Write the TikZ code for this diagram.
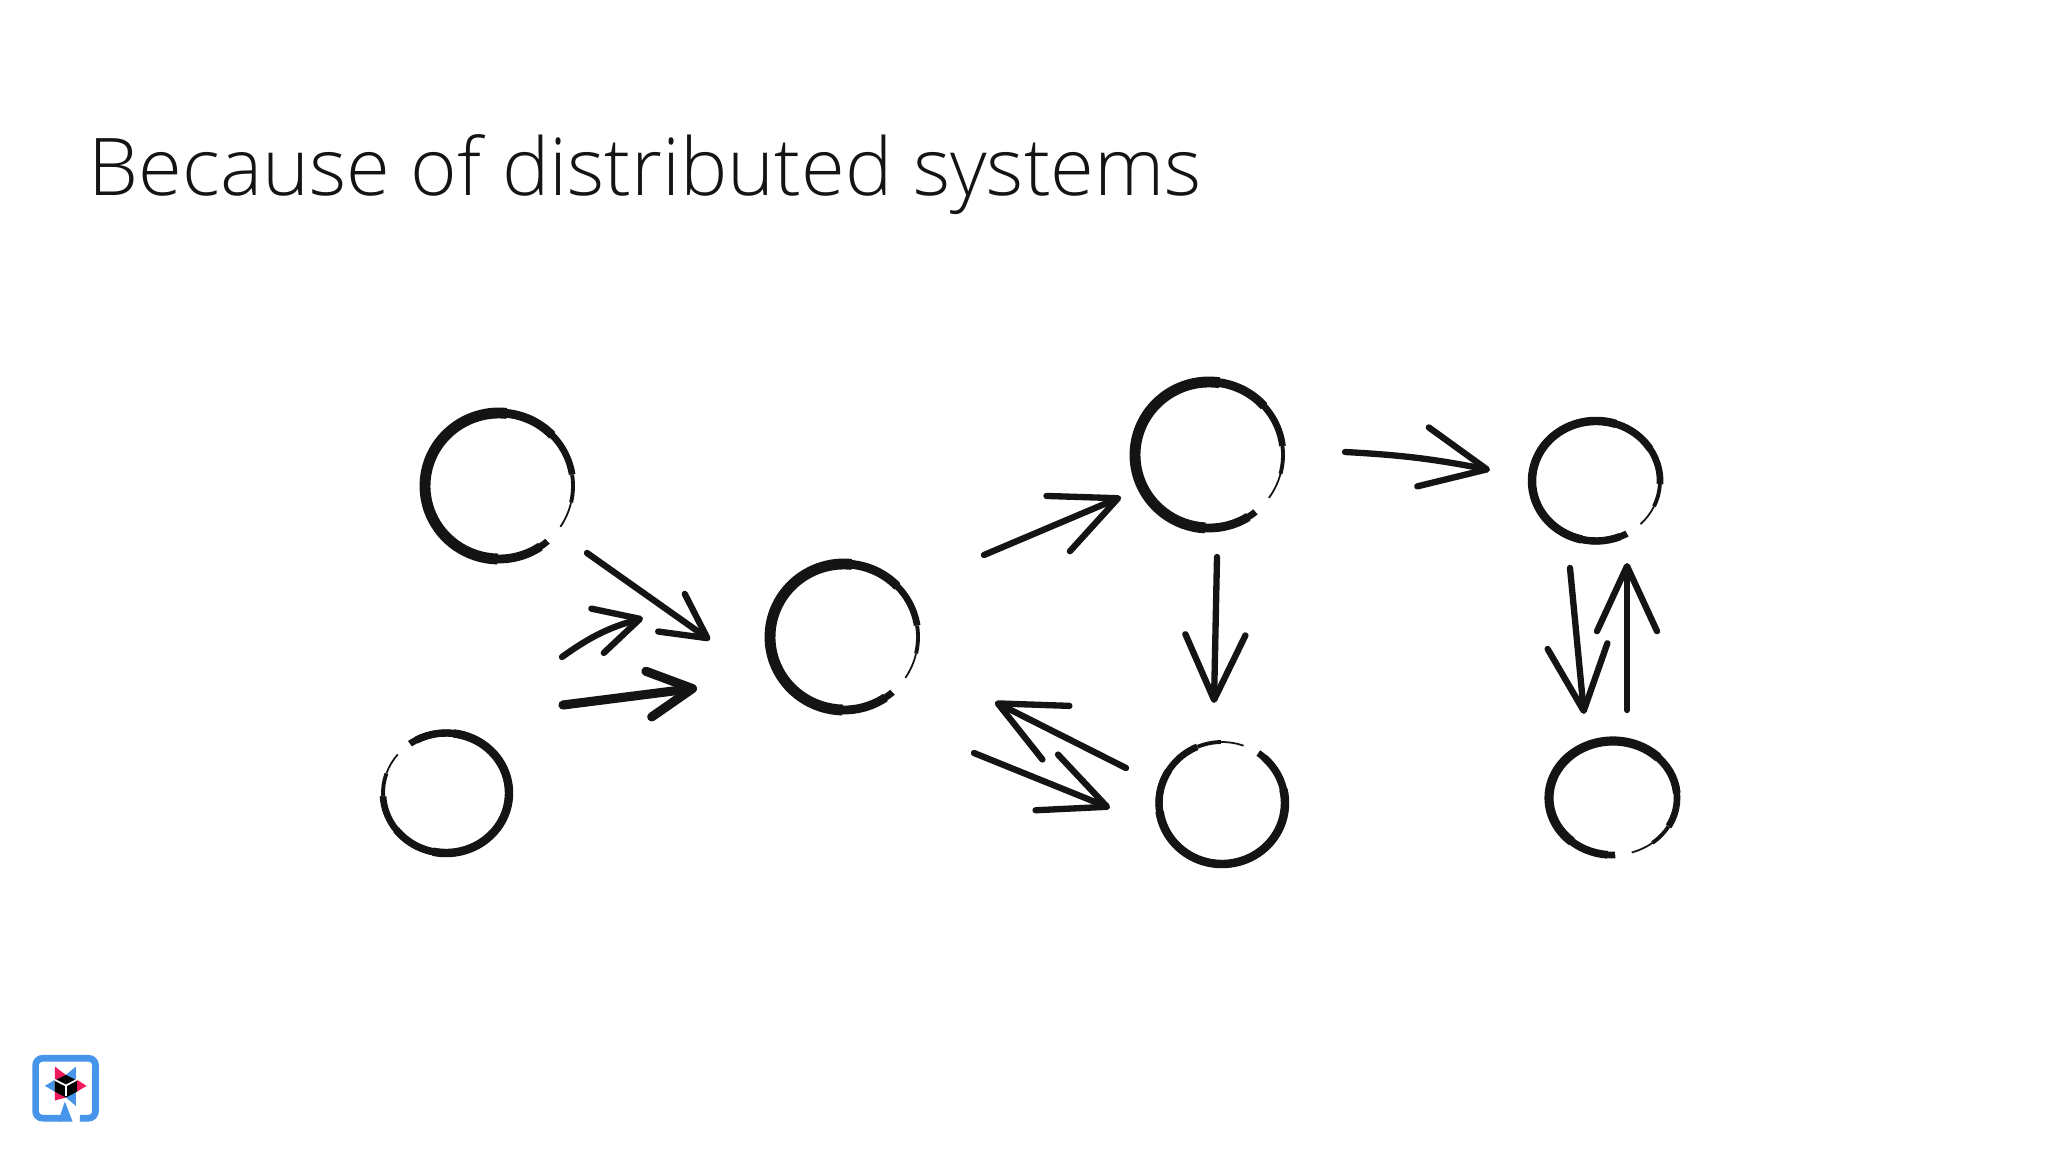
\documentclass[tikz,border=0pt]{standalone}
\usepackage{fontspec}
\setmainfont{Open Sans}[UprightFont=* Light]
\usetikzlibrary{shapes.geometric,arrows.meta}
\definecolor{quarkblue}{HTML}{4794EB}
\definecolor{quarkred}{HTML}{F0195A}
\definecolor{ink}{HTML}{141414}
\tikzset{
  ring/.style={ellipse,draw=ink,line width=1.9pt,inner sep=0pt,outer sep=0pt},
  big/.style={draw=ink,line width=1.8pt,line cap=round,-{Straight Barb[round,length=.65cm,width=.6cm]}},
  small/.style={draw=ink,line width=1.8pt,line cap=round,-{Straight Barb[round,length=.44cm,width=.46cm]}},
}
\begin{document}
\begin{tikzpicture}[x=0.01cm,y=-0.01cm]
  \useasboundingbox[fill=white] (0,0) rectangle (2048,1152);
  \node[anchor=base west,inner sep=0pt,text=ink,font=\fontsize{22.65}{28}\selectfont] (title) at (88,196) {Because of distributed systems};

  \node[ring,minimum width=1.48cm,minimum height=1.46cm] (1) at (499,486) {};
  \node[ring,minimum width=1.26cm,minimum height=1.20cm] (2) at (446,793) {};
  \node[ring,minimum width=1.48cm,minimum height=1.46cm] (3) at (844,637) {};
  \node[ring,minimum width=1.48cm,minimum height=1.46cm] (4) at (1209,455) {};
  \node[ring,minimum width=1.26cm,minimum height=1.22cm] (5) at (1222,803) {};
  \node[ring,minimum width=1.28cm,minimum height=1.20cm] (6) at (1596,481) {};
  \node[ring,minimum width=1.28cm,minimum height=1.14cm] (7) at (1613,798) {};

  % brush gaps and thick parts
  \foreach \n/\g/\rx/\ry/\t/\m in {1/41/74/73/3.1/2.5,2/-133/63/60/2.4/2.1,3/41/74/73/3.1/2.5,4/43/74/73/3.1/2.5,5/-63/63/61/2.4/2.1,6/53/64/60/2.4/2.1,7/80/64/57/2.6/2.2}{
    \draw[white,line width=4pt] ([shift={({\rx*cos(\g+8)},{\ry*sin(\g+8)})}]\n.center) arc[start angle=\g+8,end angle=\g-50,x radius=\rx,y radius=\ry];
    \foreach \s/\e/\w in {7/28/0.5,28/50/1.1,85/345/\m,125/310/\t}{
      \draw[ink,line width=\w pt] ([shift={({\rx*cos(\g-\s)},{\ry*sin(\g-\s)})}]\n.center) arc[start angle=\g-\s,end angle=\g-\e,x radius=\rx,y radius=\ry];
    }
  }

  \coordinate (s1) at (587,553); \coordinate (t1) at (710,640);
  \coordinate (s2) at (562,657); \coordinate (t2) at (643,618);
  \coordinate (s3) at (563,705); \coordinate (t3) at (697,688);
  \coordinate (s4) at (984,555); \coordinate (t4) at (1121,497);
  \coordinate (s5) at (1345,452); \coordinate (t5) at (1490,470);
  \coordinate (s6) at (1217,557); \coordinate (t6) at (1214,703);
  \coordinate (s7) at (1126,768); \coordinate (t7) at (995,702);
  \coordinate (s8) at (974,753); \coordinate (t8) at (1110,808);
  \coordinate (s9) at (1570,568); \coordinate (t9) at (1584,714);
  \coordinate (s10) at (1627,710); \coordinate (t10) at (1627,563);

  \draw[small] (s1) -- (t1);
  \draw[small] (s2) to[bend left=10] (t2);
  \draw[small,line width=2.6pt] (s3) -- (t3);
  \draw[big] (s4) -- (t4);
  \draw[big] (s5) to[bend left=4] (t5);
  \draw[big] (s6) -- (t6);
  \draw[big] (s7) -- (t7);
  \draw[big] (s8) -- (t8);
  \draw[big] (s9) -- (t9);
  \draw[big] (s10) -- (t10);

  % logo
  \begin{scope}[shift={(0,1020)},x=0.00333cm,y=-0.00333cm]
    \draw[quarkblue,line width=1.9pt,rounded corners=0.07cm] (240,295) -- (287,295) -- (287,115) -- (107,115) -- (107,295) -- (182,295);
    \fill[quarkblue] (195,245) -- (218,305) -- (175,305) -- cycle;
    \fill[quarkred] (165,140) -- (198,165) -- (165,182) -- cycle;
    \fill[quarkblue] (228,140) -- (198,165) -- (228,182) -- cycle;
    \fill[quarkred] (260,198) -- (232,180) -- (232,215) -- cycle;
    \fill[quarkblue] (135,198) -- (164,180) -- (164,215) -- cycle;
    \fill[quarkred] (165,242) -- (198,233) -- (165,215) -- cycle;
    \fill[quarkblue] (228,258) -- (198,233) -- (228,215) -- cycle;
    \fill[black] (198,165) -- (232,182) -- (232,215) -- (198,233) -- (164,215) -- (164,182) -- cycle;
    \draw[white,line width=0.5pt] (165,180) -- (198,197) -- (230,180) (198,197) -- (198,228);
  \end{scope}
\end{tikzpicture}
\end{document}
